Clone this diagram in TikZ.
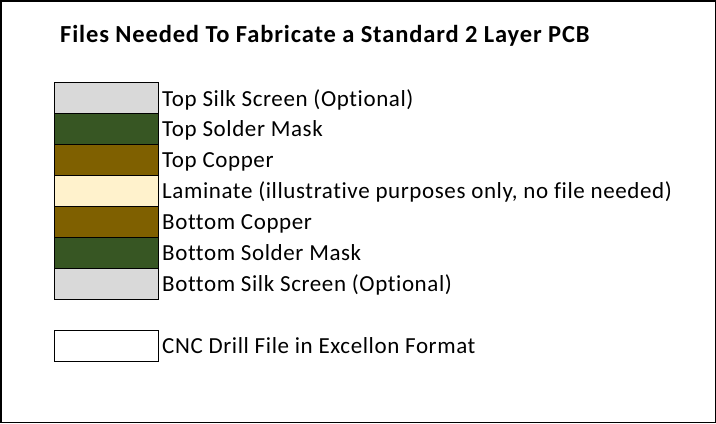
\documentclass[tikz,border=0pt]{standalone}
\usepackage{fontspec}
\setmainfont{Carlito}[Ligatures=NoCommon]
\newfontfamily\lblfont{Carlito}[Ligatures=NoCommon,LetterSpace=2.6]
\newfontfamily\ttlfont{Carlito}[Ligatures=NoCommon,LetterSpace=3.5]
\definecolor{silk}{HTML}{D9D9D9}
\definecolor{mask}{HTML}{375623}
\definecolor{copper}{HTML}{7F6000}
\definecolor{lamin}{HTML}{FFF2CC}
\begin{document}
\begin{tikzpicture}[x=1bp,y=-1bp,
  layer/.style={draw=black,line width=1bp,minimum width=104bp,minimum height=30.9bp,inner sep=0pt,anchor=north west,outer sep=0pt},
  lbl/.style={anchor=base west,inner sep=0pt,font=\lblfont\fontsize{23bp}{27bp}\selectfont},
  ttl/.style={anchor=base west,inner sep=0pt,font=\ttlfont\fontsize{24.5bp}{28bp}\selectfont\bfseries}]
\useasboundingbox (0,0) rectangle (716,423);
\draw[line width=1.5bp] (0.75,0.75) rectangle (715.25,422.25);
\node[ttl] (title) at (60,42.7) {Files Needed To Fabricate a Standard 2 Layer PCB};
\node[layer,fill=silk] (r1) at (54,82.7) {};
\node[layer,fill=mask] (r2) at (54,113.6) {};
\node[layer,fill=copper] (r3) at (54,144.5) {};
\node[layer,fill=lamin] (r4) at (54,175.4) {};
\node[layer,fill=copper] (r5) at (54,206.3) {};
\node[layer,fill=mask] (r6) at (54,237.2) {};
\node[layer,fill=silk] (r7) at (54,268.1) {};
\node[layer,fill=white] (r8) at (54,330.3) {};
\node[lbl] (t1) at (162,106) {Top Silk Screen (Optional)};
\node[lbl] (t2) at (162,136.9) {Top Solder Mask};
\node[lbl] (t3) at (162,167.8) {Top Copper};
\node[lbl] (t4) at (162,198.7) {Laminate (illustrative purposes only, no file needed)};
\node[lbl] (t5) at (162,229.6) {Bottom Copper};
\node[lbl] (t6) at (162,260.5) {Bottom Solder Mask};
\node[lbl] (t7) at (162,291.4) {Bottom Silk Screen (Optional)};
\node[lbl] (t8) at (162,353.6) {CNC Drill File in Excellon Format};
\end{tikzpicture}
\end{document}
